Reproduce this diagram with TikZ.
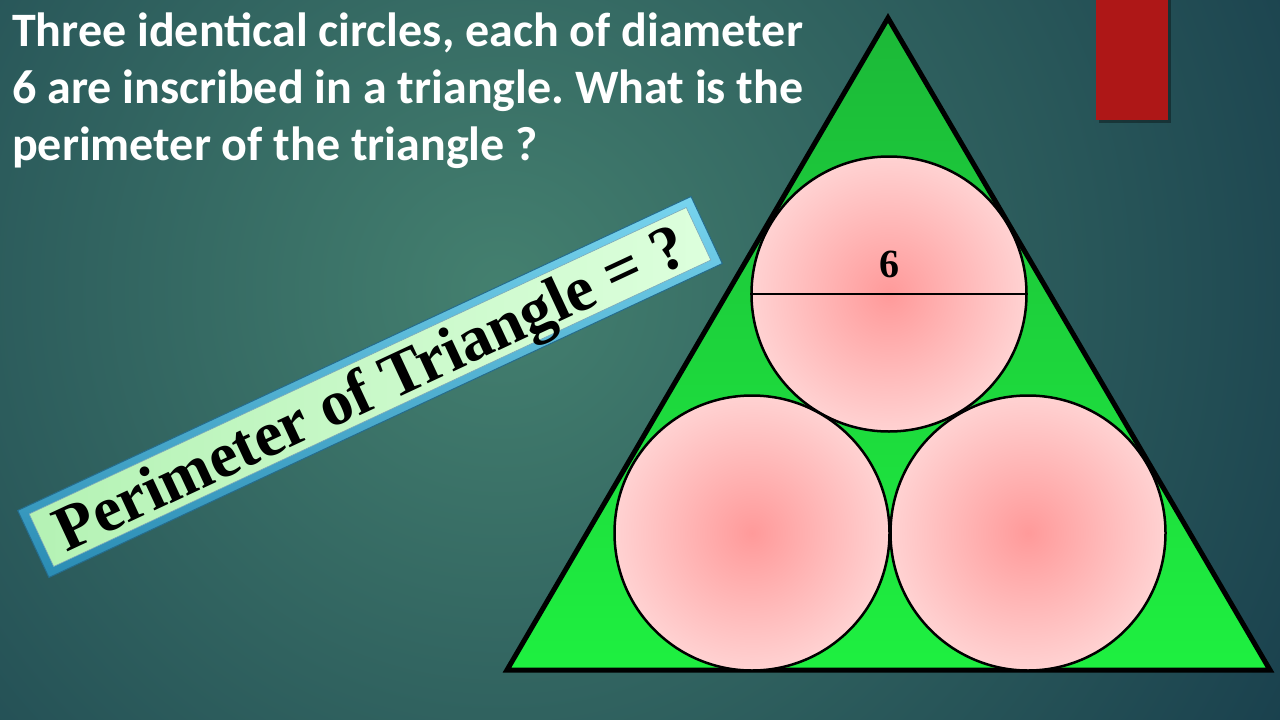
\documentclass[tikz,border=0pt]{standalone}
\usepackage{fontspec}
\setmainfont{Liberation Serif}
\newfontfamily\titlefont{Carlito}
\usetikzlibrary{calc}
\frenchspacing
\definecolor{bgin}{HTML}{44806F}
\definecolor{bgout}{HTML}{143849}
\definecolor{trigtop}{HTML}{1CB838}
\definecolor{trigbot}{HTML}{1EF040}
\definecolor{pinkin}{HTML}{FF9A9A}
\definecolor{pinkout}{HTML}{FFD2D2}
\definecolor{redbar}{HTML}{AE1717}
\definecolor{bevtop}{HTML}{78D4EE}
\definecolor{bevbot}{HTML}{2A8CB4}
\definecolor{bevline}{HTML}{256C8C}
\definecolor{mintl}{HTML}{B4F2B4}
\definecolor{mintr}{HTML}{DDFFDD}
\tikzset{
  titleline/.style={anchor=base west, text=white, inner sep=0pt, font=\titlefont\bfseries\fontsize{48}{56}\selectfont},
  ballcircle/.style={circle, minimum size=275pt, inner sep=0pt, draw=black, line width=2.5pt, inner color=pinkin, outer color=pinkout},
  bevelbox/.style={rectangle, minimum width=743pt, minimum height=74pt, inner sep=0pt, top color=bevtop, bottom color=bevbot, draw=bevline, line width=1pt},
  bannerbox/.style={rectangle, minimum width=725pt, minimum height=58pt, inner sep=0pt, text height=43pt, text depth=0pt, left color=mintl, right color=mintr, draw=bevline!60, line width=0.6pt, font=\bfseries\fontsize{64}{64}\selectfont, text=black},
}
\begin{document}
\begin{tikzpicture}[x=1pt,y=-1pt]
\useasboundingbox (0,0) rectangle (1280,720);
% background
\begin{scope}
\clip (0,0) rectangle (1280,720);
\shade[inner color=bgin, outer color=bgout] (500,290) circle (1020);
\end{scope}
% red bar with shadow
\fill[black, opacity=0.35] (1099,0) rectangle (1171,123);
\fill[redbar] (1096,0) rectangle (1168,120);
% title
\node[titleline] (t1) at (12,46) {Three identical circles, each of diameter};
\node[titleline] (t2) at (12,103) {6 are inscribed in a triangle. What is the};
\node[titleline] (t3) at (12,160) {perimeter of the triangle ?};
% triangle
\coordinate (A) at (888,18);
\coordinate (B) at (507,670);
\coordinate (C) at (1270,670);
\shadedraw[top color=trigtop, bottom color=trigbot, draw=black, line width=5pt, line join=miter] (A) -- (B) -- (C) -- cycle;
% circles
\node[ballcircle] (ctop) at (889,294) {};
\node[ballcircle] (cleft) at (752,533) {};
\node[ballcircle] (cright) at (1028,533) {};
\draw[line width=2.5pt] (ctop.west) -- (ctop.east);
\node[font=\bfseries\fontsize{40}{40}\selectfont, inner sep=0pt] (six) at (889,264) {6};
% banner
\node[bevelbox, rotate=25] (bev) at (370,387) {};
\node[bannerbox, rotate=25] (banner) at (bev.center) {Perimeter of Triangle = ?};
\end{tikzpicture}
\end{document}
